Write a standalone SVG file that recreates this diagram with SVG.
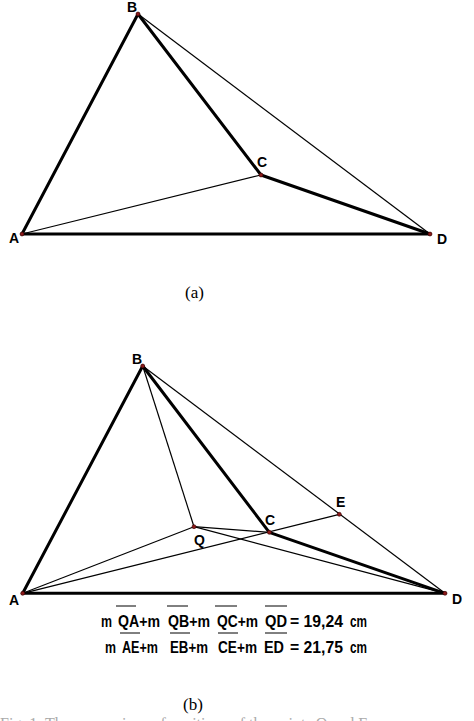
<svg xmlns="http://www.w3.org/2000/svg" width="474" height="721" viewBox="0 0 474 721">
<style>
.thick{stroke:#000;stroke-width:3;fill:none;stroke-linecap:round}
.thin{stroke:#000;stroke-width:1.2;fill:none}
.pt{fill:#8b1a1a;stroke:#300;stroke-width:0.6}
.lbl{font-family:"Liberation Sans",Arial,sans-serif;font-weight:bold;font-size:14px;fill:#000}
.eq{font-family:"Liberation Sans",Arial,sans-serif;font-weight:bold;font-size:16.5px;fill:#000}
.bar{stroke:#000;stroke-width:1}
.cap{font-family:"Liberation Serif","Times New Roman",serif;font-size:17px;fill:#000}
.fig{font-family:"Liberation Serif","Times New Roman",serif;font-size:16px;fill:#aaa}
</style>
<rect width="474" height="721" fill="#fff"/>
<g id="connectors">
  <line class="thin" x1="138" y1="14" x2="430" y2="234"/>
  <line class="thin" x1="22" y1="234" x2="261" y2="175"/>
  <line class="thick" x1="22" y1="234" x2="138" y2="14"/>
  <line class="thick" x1="138" y1="14" x2="261" y2="175"/>
  <line class="thick" x1="261" y1="175" x2="430" y2="234"/>
  <line class="thick" x1="22" y1="234" x2="430" y2="234"/>
  <line class="thin" x1="142.7" y1="366" x2="445" y2="593.3"/>
  <line class="thin" x1="142.7" y1="366" x2="194" y2="526.7"/>
  <line class="thin" x1="22.7" y1="593.3" x2="194" y2="526.7"/>
  <line class="thin" x1="194" y1="526.7" x2="269.3" y2="532.3"/>
  <line class="thin" x1="194" y1="526.7" x2="445" y2="593.3"/>
  <line class="thin" x1="22.7" y1="593.3" x2="339.3" y2="514.3"/>
  <line class="thick" x1="22.7" y1="593.3" x2="142.7" y2="366"/>
  <line class="thick" x1="142.7" y1="366" x2="269.3" y2="532.3"/>
  <line class="thick" x1="269.3" y1="532.3" x2="445" y2="593.3"/>
  <line class="thick" x1="22.7" y1="593.3" x2="445" y2="593.3"/>
</g>
<g id="a-A"><circle class="pt" cx="22" cy="234" r="2"/><text class="lbl" x="9" y="243">A</text></g>
<g id="a-B"><circle class="pt" cx="138" cy="14" r="2"/><text class="lbl" x="127" y="12">B</text></g>
<g id="a-C"><circle class="pt" cx="261" cy="175" r="2"/><text class="lbl" x="257" y="167">C</text></g>
<g id="a-D"><circle class="pt" cx="430" cy="234" r="2"/><text class="lbl" x="437" y="244">D</text></g>
<g id="b-A"><circle class="pt" cx="22.7" cy="593.3" r="2"/><text class="lbl" x="9" y="605">A</text></g>
<g id="b-B"><circle class="pt" cx="142.7" cy="366" r="2"/><text class="lbl" x="132" y="364">B</text></g>
<g id="b-C"><circle class="pt" cx="269.3" cy="532.3" r="2"/><text class="lbl" x="265" y="525">C</text></g>
<g id="b-D"><circle class="pt" cx="445" cy="593.3" r="2"/><text class="lbl" x="452" y="604">D</text></g>
<g id="b-E"><circle class="pt" cx="339.3" cy="514.3" r="2"/><text class="lbl" x="336" y="507">E</text></g>
<g id="b-Q"><circle class="pt" cx="194" cy="526.7" r="2"/><text class="lbl" x="194" y="545">Q</text></g>
<g id="captions">
  <text class="cap" x="185" y="298">(a)</text>
  <text class="cap" x="183" y="710">(b)</text>
  <text class="fig" x="0" y="729">Fig. 1. The comparison of positions of the points Q and E</text>
</g>
<g id="equations">
  <text class="eq" x="101" y="627" textLength="11" lengthAdjust="spacingAndGlyphs">m</text>
  <text class="eq" x="118" y="627" textLength="42" lengthAdjust="spacingAndGlyphs">QA+m</text>
  <text class="eq" x="168" y="627" textLength="42" lengthAdjust="spacingAndGlyphs">QB+m</text>
  <text class="eq" x="217" y="627" textLength="41" lengthAdjust="spacingAndGlyphs">QC+m</text>
  <text class="eq" x="265" y="627" textLength="22" lengthAdjust="spacingAndGlyphs">QD</text>
  <text class="eq" x="290" y="627" textLength="53" lengthAdjust="spacingAndGlyphs">= 19,24</text>
  <text class="eq" x="350" y="627" textLength="17" lengthAdjust="spacingAndGlyphs">cm</text>
  <line class="bar" x1="116" y1="606" x2="136" y2="606"/>
  <line class="bar" x1="167" y1="606" x2="188" y2="606"/>
  <line class="bar" x1="215" y1="606" x2="237" y2="606"/>
  <line class="bar" x1="265" y1="606" x2="287" y2="606"/>
  <text class="eq" x="105" y="653" textLength="11" lengthAdjust="spacingAndGlyphs">m</text>
  <text class="eq" x="122" y="653" textLength="36" lengthAdjust="spacingAndGlyphs">AE+m</text>
  <text class="eq" x="170" y="653" textLength="38" lengthAdjust="spacingAndGlyphs">EB+m</text>
  <text class="eq" x="218" y="653" textLength="39" lengthAdjust="spacingAndGlyphs">CE+m</text>
  <text class="eq" x="264" y="653" textLength="20" lengthAdjust="spacingAndGlyphs">ED</text>
  <text class="eq" x="290" y="653" textLength="53" lengthAdjust="spacingAndGlyphs">= 21,75</text>
  <text class="eq" x="350" y="653" textLength="17" lengthAdjust="spacingAndGlyphs">cm</text>
  <line class="bar" x1="120" y1="633" x2="140" y2="633"/>
  <line class="bar" x1="170" y1="633" x2="190" y2="633"/>
  <line class="bar" x1="218" y1="633" x2="238" y2="633"/>
  <line class="bar" x1="265" y1="633" x2="287" y2="633"/>
</g>
</svg>
